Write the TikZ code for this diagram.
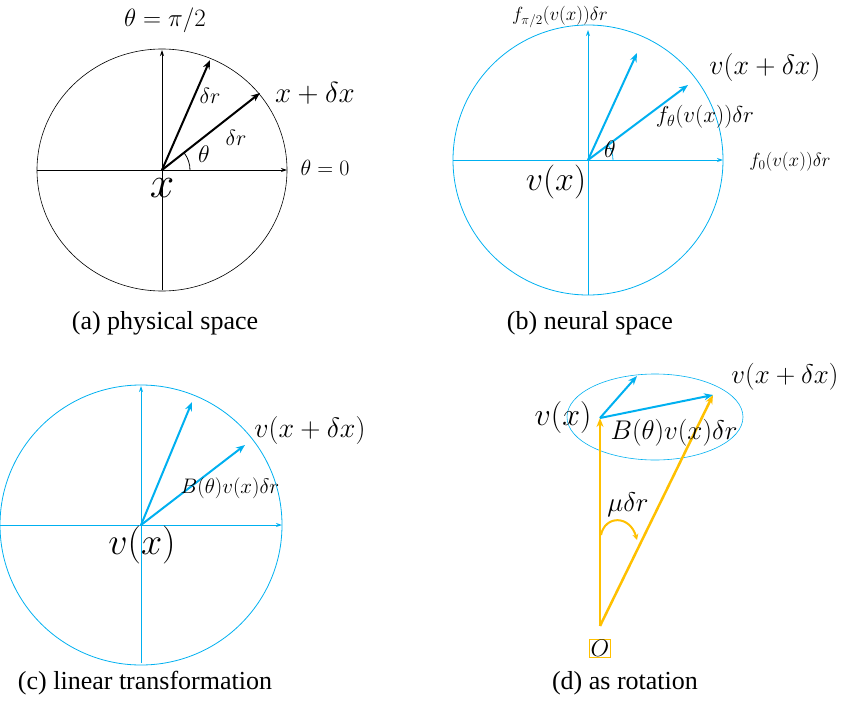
\RequirePackage{fix-cm}
\documentclass[tikz,border=0pt]{standalone}
\usepackage{fontspec}
\setmainfont{LiberationSerif}[Extension=.ttf,UprightFont=*-Regular,BoldFont=*-Bold]
\usetikzlibrary{arrows.meta}
\definecolor{cb}{RGB}{0,176,240}
\definecolor{cy}{RGB}{255,192,0}
\newcommand{\fs}[1]{\fontsize{#1pt}{#1pt}\selectfont}
\begin{document}
\begin{tikzpicture}[x=1pt,y=-1pt,
 axis/.style={-{Stealth[length=6pt,width=4pt]},line width=0.9pt},
 vec/.style={-{Stealth[length=9pt,width=7pt]},line width=2pt},
 captxt/.style={font=\fs{26}},
 lab/.style={inner sep=1pt}]
\useasboundingbox (0,0) rectangle (860,712);
% (a)
\coordinate (a0) at (162,170);
\draw[line width=0.6pt] (a0) ellipse[x radius=125,y radius=121];
\draw[axis] (37,170) -- (287,170);
\draw[axis] (162,290) -- (162,50);
\draw[vec] (a0) -- (210,60);
\draw[vec] (a0) -- (260,93);
\draw[line width=0.8pt] (190,170) arc[start angle=0,end angle=-37,radius=28];
\node[lab,font=\fs{25}] at (165,20) {$\theta=\pi/2$};
\node[lab,font=\fs{29}] at (315,93) {$x+\delta x$};
\node[lab,font=\fs{22}] at (325,168) {$\theta=0$};
\node[lab,font=\fs{22}] at (210,96) {$\delta r$};
\node[lab,font=\fs{22}] at (236,138) {$\delta r$};
\node[lab,font=\fs{24}] at (204,154) {$\theta$};
\node[lab,font=\fs{44}] at (162,188) {$x$};
\node[captxt] at (165,323) {(a) physical space};
% (b)
\coordinate (b0) at (588,160);
\draw[cb,line width=0.8pt] (b0) circle[radius=135];
\draw[axis,cb] (453,160) -- (723,160);
\draw[axis,cb] (588,295) -- (588,30);
\draw[vec,cb] (b0) -- (637,53);
\draw[vec,cb] (b0) -- (688,85);
\draw[cb,line width=0.8pt] (613,160) arc[start angle=0,end angle=-37,radius=25];
\node[lab,font=\fs{19}] at (560,17) {$f_{\pi/2}(v(x))\delta r$};
\node[lab,font=\fs{28}] at (765,68) {$v(x+\delta x)$};
\node[lab,font=\fs{23}] at (705,117) {$f_\theta(v(x))\delta r$};
\node[lab,font=\fs{24}] at (610,149) {$\theta$};
\node[lab,font=\fs{19}] at (790,162) {$f_0(v(x))\delta r$};
\node[lab,font=\fs{34}] at (556,182) {$v(x)$};
\node[captxt] at (590,323) {(b) neural space};
% (c)
\coordinate (c0) at (141,525);
\draw[cb,line width=0.8pt] (c0) ellipse[x radius=141,y radius=140];
\draw[axis,cb] (0,525) -- (282,525);
\draw[axis,cb] (141,663) -- (141,386);
\draw[vec,cb] (c0) -- (192,402);
\draw[vec,cb] (c0) -- (245,445);
\node[lab,font=\fs{28}] at (310,430) {$v(x+\delta x)$};
\node[lab,font=\fs{21}] at (230,488) {$B(\theta)v(x)\delta r$};
\node[lab,font=\fs{38}] at (142,545) {$v(x)$};
\node[captxt] at (145,683) {(c) linear transformation};
% (d)
\draw[cb,line width=0.6pt] (655,417) ellipse[x radius=88,y radius=43];
\coordinate (vx) at (600,418);
\coordinate (vd) at (713,395);
\coordinate (vt) at (637,376);
\node[draw=cy,inner sep=1pt,font=\fs{24}] (O) at (600,648) {$O$};
\draw[vec,cy,line width=2.5pt] (600,626) -- (vx);
\draw[vec,cy,line width=2.5pt] (600,626) -- (vd);
\draw[vec,cb] (vx) -- (vt);
\draw[vec,cb] (vx) -- (vd);
\draw[cy,line width=2pt,-{Stealth[length=6pt,width=6pt]}] (601,535) .. controls (605,515) and (630,515) .. (637,540);
\node[lab,font=\fs{27}] at (785,377) {$v(x+\delta x)$};
\node[lab,font=\fs{27}] at (674,433) {$B(\theta)v(x)\delta r$};
\node[lab,font=\fs{32}] at (563,417) {$v(x)$};
\node[lab,font=\fs{27}] at (628,505) {$\mu\delta r$};
\node[captxt] at (625,683) {(d) as rotation};
\end{tikzpicture}
\end{document}
